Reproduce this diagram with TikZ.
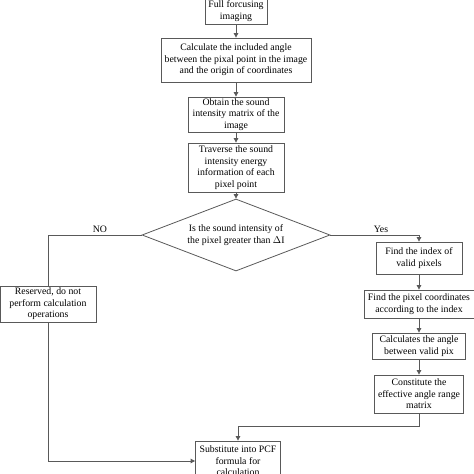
\documentclass[tikz,border=0pt]{standalone}
\usepackage{fontspec}
\setmainfont{Liberation Serif}
\usetikzlibrary{arrows.meta,shapes.geometric}

\begin{document}
\begin{tikzpicture}[x=1pt, y=-1pt,
  stepbox/.style={draw=black!65, line width=0.8pt, align=center, inner sep=1pt,
                  font=\fontsize{9.8}{11.5}\selectfont},
  decision/.style={diamond, aspect=2.6, draw=black!65, line width=0.8pt, align=center, inner sep=0pt,
                   minimum width=188pt, minimum height=72pt, font=\fontsize{9.8}{11.5}\selectfont},
  flow/.style={-{Triangle[length=4.5pt, width=4.5pt]}, line width=0.8pt, draw=black!65},
  link/.style={line width=0.8pt, draw=black!65},
  branch/.style={font=\fontsize{9.8}{11.5}\selectfont, inner sep=1pt}
]
\clip (0,0) rectangle (474,474);

\def\xm{236} \def\xl{48} \def\xr{419}

% main column
\node[stepbox, minimum width=62pt, minimum height=26pt] (full) at (\xm,11) {Full forcusing\\imaging};
\node[stepbox, minimum width=150pt, minimum height=44pt] (angle) at (\xm,60)
  {Calculate the included angle\\between the pixal point in the image\\and the origin of coordinates};
\node[stepbox, minimum width=96pt, minimum height=35pt] (matrix) at (\xm,114.5)
  {Obtain the sound\\intensity matrix of the\\image};
\node[stepbox, minimum width=96pt, minimum height=49pt] (traverse) at (\xm,167.5)
  {Traverse the sound\\intensity energy\\information of each\\pixel point};
\node[decision] (check) at (\xm,235) {Is the sound intensity of\\the pixel greater than $\Delta$I};

% left branch
\node[stepbox, minimum width=96pt, minimum height=36pt] (reserved) at (\xl,304)
  {Reserved, do not\\perform calculation\\operations};

% right branch
\node[stepbox, minimum width=86pt, minimum height=32pt] (index) at (\xr,258)
  {Find the index of\\valid pixels};
\node[stepbox, minimum width=110pt, minimum height=28pt] (coords) at (\xr,304)
  {Find the pixel coordinates\\according to the index};
\node[stepbox, minimum width=93pt, minimum height=26pt] (between) at (\xr,346)
  {Calculates the angle\\between valid pix};
\node[stepbox, minimum width=89pt, minimum height=38pt] (range) at (\xr,394)
  {Constitute the\\effective angle range\\matrix};

\node[stepbox, minimum width=85pt, minimum height=40pt] (pcf) at (238,461)
  {Substitute into PCF\\formula for\\calculation};

\node[branch] (no) at (100,229) {NO};
\node[branch] (yes) at (381,229) {Yes};

\coordinate (turn) at (\xr,426);

\draw[flow] (full) -- (angle);
\draw[flow] (angle) -- (matrix);
\draw[flow] (matrix) -- (traverse);
\draw[flow] (traverse) -- (check);

\draw[link] (check.west) -| (reserved.north);
\draw[flow] (reserved.south) |- (pcf.west);

\draw[flow] (check.east) -| (index.north);
\draw[flow] (index) -- (coords);
\draw[flow] (coords) -- (between);
\draw[flow] (between) -- (range);
\draw[flow] (range) -- (turn) -| (pcf.north);

\end{tikzpicture}
\end{document}
